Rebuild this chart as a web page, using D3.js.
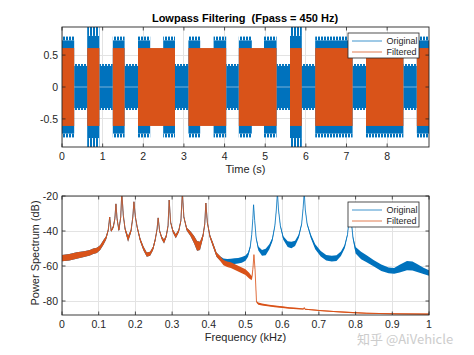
<!DOCTYPE html>
<html><head><meta charset="utf-8">
<script src="https://cdn.jsdelivr.net/npm/d3@7"></script>
<style>body{margin:0;background:#fff}svg{display:block;font-family:"Liberation Sans",Arial,Helvetica,sans-serif}</style>
</head><body><svg id="c" width="474" height="355"></svg>
<script>
// ---------- data: time signal (segment envelopes) ----------
const timeTicks = [0,1,2,3,4,5,6,7,8];
const ampTicks = [-0.5,0,0.5];
const origStart = [0,0.30,0.62,0.92,1.25,1.54,1.87,2.17,2.49,2.78,3.11,3.40,3.73,4.04,4.35,4.67,4.97,5.28,5.61,5.90,6.23,7.15,7.48,8.40,8.73];
const origEnd   = [0.30,0.62,0.92,1.25,1.54,1.87,2.17,2.49,2.78,3.11,3.40,3.73,4.04,4.35,4.67,4.97,5.28,5.61,5.90,6.23,7.15,7.48,8.40,8.73,9.03];
const origAmp   = [0.79,0.36,1.00,0.36,0.79,0.36,0.79,0.60,0.79,0.36,0.79,0.60,0.79,0.36,0.79,0.60,0.79,0.36,1.00,0.36,0.79,0.36,0.79,0.36,0.79];
const origFuzz  = [0.06,0.03,0.20,0.03,0.06,0.03,0.06,0.00,0.06,0.03,0.06,0.00,0.06,0.03,0.06,0.00,0.06,0.03,0.20,0.03,0.06,0.03,0.06,0.03,0.06];
const filtStart = [0,0.62,1.25,1.87,3.11,4.35,5.61,6.23,7.48,8.73];
const filtEnd   = [0.30,0.92,1.54,2.78,4.04,5.28,5.90,7.15,8.40,9.03];
const filtAmp   = [0.61,0.61,0.61,0.61,0.61,0.61,0.61,0.61,0.61,0.61];

// ---------- data: power spectrum ----------
const freqTicks = [0,0.1,0.2,0.3,0.4,0.5,0.6,0.7,0.8,0.9,1];
const freqTickLabels = ["0","0.1","0.2","0.3","0.4","0.5","0.6","0.7","0.8","0.9","1"];
const dbTicks = [-80,-60,-40,-20];
const filtFreq  = [0,.02,.04,.06,.076,.085,.095,.104,.113,.120,.126,.130,.134,.140,.144,.147,.150,.155,.160,.163,.167,.172,.180,.188,.193,.196,.200,.205,.213,.222,.231,.240,.248,.254,.259,.262,.266,.272,.278,.284,.289,.292,.296,.302,.310,.318,.324,.328,.332,.340,.350,.360,.368,.376,.384,.389,.392,.396,.403,.410,.421,.430,.440,.450,.460,.470,.480,.490,.500,.510,.517,.520,.523,.526,.530,.535,.545,.560,.580,.600,.620,.640,.658,.660,.662,.680,.700,.740,.780,.830,.900,1.0];
const filtDb    = [-55.5,-55,-54,-53.2,-52.4,-51.6,-51,-49.5,-46.5,-44,-39.5,-32,-40,-37.5,-33,-24.5,-33,-39.5,-32,-18,-31,-39,-44.5,-40,-32,-23.3,-32,-38,-45,-50,-53.5,-53,-50,-45,-39,-32.5,-40,-44,-46,-43,-37,-22.3,-35,-40,-43,-40,-34,-18,-32,-39,-41.5,-45,-48.5,-48.5,-43,-36,-24,-35,-43,-47,-53.5,-55.5,-58,-59,-59.5,-60.5,-61.5,-62.5,-63.5,-65.5,-67,-62,-53.5,-62,-80.5,-81.5,-82,-82.5,-83,-83.5,-84,-84.3,-84.6,-83.8,-84.7,-85,-85.4,-86,-86.5,-87,-87.3,-87.5];
const filtNoise = [1.8,1.8,1.8,1.7,1.6,1.6,1.5,1.4,1.3,1.0,0.6,0.2,0.6,0.8,0.4,0.2,0.4,0.8,0.4,0.2,0.4,0.9,1.6,0.8,0.4,0.2,0.4,0.7,1.0,1.2,1.2,1.2,1.0,0.8,0.5,0.2,0.5,0.8,1.2,0.8,0.5,0.2,0.4,0.8,1.2,0.8,0.4,0.2,0.4,0.9,1.4,2.2,2.8,2.4,1.2,0.5,0.2,0.5,0.9,1.2,1.2,1.3,1.5,1.6,1.6,1.6,1.6,1.6,1.6,1.6,1.2,0.5,0.2,0.4,0.5,0.6,0.6,0.5,0.5,0.5,0.4,0.4,0.3,0.3,0.3,0.3,0.3,0.3,0.3,0.3,0.3,0.3];
// Original = filtered below the passband edge, plus this stopband part
const passEdge = 0.43;
const origStopFreq  = [.430,.440,.450,.460,.470,.480,.490,.500,.507,.513,.517,.520,.522,.525,.529,.535,.545,.555,.565,.573,.580,.584,.587,.590,.595,.603,.615,.625,.635,.645,.653,.657,.660,.663,.668,.678,.690,.705,.720,.735,.748,.760,.770,.778,.782,.785,.788,.793,.800,.815,.830,.850,.870,.890,.905,.920,.940,.955,.970,.985,1.0];
const origStopDb    = [-55.5,-57,-57.5,-57.5,-57.2,-57,-56.5,-55.5,-53.5,-49,-42,-33,-25,-34,-44,-50,-52.5,-52,-49,-45,-37,-28,-18,-28,-37,-44,-47.5,-48,-47,-43,-36,-27,-18,-28,-36,-43,-49,-53,-55.3,-55.8,-55.5,-53,-49,-42,-34,-27,-34,-44,-51,-54,-55.8,-58.5,-61,-62.5,-62.8,-61.5,-59.8,-60,-61.3,-62.8,-64];
const origStopNoise = [1.2,1.3,1.5,1.6,1.6,1.6,1.6,1.5,1.2,0.8,0.5,0.3,0.2,0.3,0.6,1.2,1.6,1.8,1.4,1.0,0.5,0.3,0.2,0.3,0.5,1.0,1.6,1.8,1.5,1.0,0.5,0.3,0.2,0.3,0.5,1.0,1.4,1.6,1.6,1.6,1.6,1.3,1.0,0.6,0.4,0.2,0.4,0.8,1.8,2.2,2.0,1.8,1.8,1.6,1.6,2.2,2.6,2.6,2.2,1.8,1.6];

const blue = "#0072BD", orange = "#D95319";
const axCol = "#262626", gridCol = "#e3e3e3";

const svg = d3.select("#c");
const defs = svg.append("defs");
const pat = defs.append("pattern").attr("id","fz").attr("patternUnits","userSpaceOnUse").attr("width",3).attr("height",6);
pat.append("rect").attr("x",0).attr("y",0).attr("width",2).attr("height",6).attr("fill",blue);

function frame(g, x, y, xt, yt) {
  const [x0,x1] = x.range(), [y1,y0] = y.range();
  g.append("g").selectAll("line").data(xt).join("line")
    .attr("x1",d=>x(d)).attr("x2",d=>x(d)).attr("y1",y0).attr("y2",y1)
    .attr("stroke",gridCol).attr("stroke-width",1).attr("shape-rendering","crispEdges");
  g.append("g").selectAll("line").data(yt).join("line")
    .attr("y1",d=>y(d)).attr("y2",d=>y(d)).attr("x1",x0).attr("x2",x1)
    .attr("stroke",gridCol).attr("stroke-width",1).attr("shape-rendering","crispEdges");
}
function axesBox(g, x, y, xt, yt, xfmt, yfmt, labY) {
  const [x0,x1] = x.range(), [y1,y0] = y.range();
  const tk = 3.5;
  const ticks = g.append("g").attr("stroke",axCol).attr("stroke-width",0.8);
  xt.forEach(d=>{
    ticks.append("line").attr("x1",x(d)).attr("x2",x(d)).attr("y1",y1).attr("y2",y1-tk);
    ticks.append("line").attr("x1",x(d)).attr("x2",x(d)).attr("y1",y0).attr("y2",y0+tk);
  });
  yt.forEach(d=>{
    ticks.append("line").attr("y1",y(d)).attr("y2",y(d)).attr("x1",x0).attr("x2",x0+tk);
    ticks.append("line").attr("y1",y(d)).attr("y2",y(d)).attr("x1",x1).attr("x2",x1-tk);
  });
  g.append("rect").attr("x",x0).attr("y",y0).attr("width",x1-x0).attr("height",y1-y0)
    .attr("fill","none").attr("stroke",axCol).attr("stroke-width",0.9);
  g.append("g").selectAll("text").data(xt).join("text")
    .attr("x",d=>x(d)).attr("y",labY).attr("text-anchor","middle")
    .attr("font-size",10.5).attr("fill",axCol).text((d,i)=>xfmt(d,i));
  g.append("g").selectAll("text").data(yt).join("text")
    .attr("x",x0-4).attr("y",d=>y(d)).attr("dy","0.35em").attr("text-anchor","end")
    .attr("font-size",10.5).attr("fill",axCol).text(d=>yfmt(d));
}
function legend(g, x, y) {
  g.append("rect").attr("x",x).attr("y",y).attr("width",71).attr("height",25)
    .attr("fill","#fff").attr("stroke",axCol).attr("stroke-width",0.8);
  [["Original",blue],["Filtered",orange]].forEach((d,i)=>{
    const yy = y+8+i*11;
    g.append("line").attr("x1",x+4).attr("x2",x+34).attr("y1",yy).attr("y2",yy)
      .attr("stroke",d[1]).attr("stroke-width",1).attr("opacity",0.75);
    g.append("text").attr("x",x+38.5).attr("y",yy).attr("dy","0.35em")
      .attr("font-size",9).attr("fill",axCol).text(d[0]);
  });
}

// ================= TOP: time signal =================
const xT = d3.scaleLinear().domain([0,9.03]).range([62,429]);
const yT = d3.scaleLinear().domain([-0.94,0.94]).range([147,27]);
const gT = svg.append("g");
frame(gT, xT, yT, timeTicks, ampTicks);
defs.append("clipPath").attr("id","clipT").append("rect")
  .attr("x",62).attr("y",27).attr("width",367).attr("height",120);
const dT = gT.append("g").attr("clip-path","url(#clipT)");
const segs = origStart.map((s,i)=>({s, e:origEnd[i], a:origAmp[i], f:origFuzz[i]}));
dT.append("g").selectAll("rect").data(segs).join("rect")
  .attr("x",d=>xT(d.s)).attr("width",d=>xT(d.e)-xT(d.s))
  .attr("y",d=>yT(d.a-d.f)).attr("height",d=>yT(-(d.a-d.f))-yT(d.a-d.f))
  .attr("fill",blue);
[1,-1].forEach(sg=>{
  dT.append("g").selectAll("rect").data(segs.filter(d=>d.f>0)).join("rect")
    .attr("x",d=>xT(d.s)).attr("width",d=>xT(d.e)-xT(d.s))
    .attr("y",d=>sg>0 ? yT(d.a) : yT(-(d.a-d.f)))
    .attr("height",d=>yT(d.a-d.f)-yT(d.a))
    .attr("fill","url(#fz)");
});
dT.append("line").attr("x1",xT(0)).attr("x2",xT(9.03)).attr("y1",yT(0)).attr("y2",yT(0))
  .attr("stroke","#dfe6ee").attr("stroke-width",1).attr("opacity",0.55);
const fsegs = filtStart.map((s,i)=>({s, e:filtEnd[i], a:filtAmp[i]}));
dT.append("g").selectAll("rect").data(fsegs).join("rect")
  .attr("x",d=>xT(d.s)).attr("width",d=>xT(d.e)-xT(d.s))
  .attr("y",d=>yT(d.a)).attr("height",d=>yT(-d.a)-yT(d.a))
  .attr("fill",orange);
axesBox(gT, xT, yT, timeTicks, ampTicks, d=>String(d), d=>String(d), 160);
gT.append("text").attr("x",245).attr("y",22).attr("text-anchor","middle")
  .attr("font-size",11).attr("font-weight","bold").attr("fill","#000")
  .attr("xml:space","preserve").style("white-space","pre")
  .text("Lowpass Filtering  (Fpass = 450 Hz)");
gT.append("text").attr("x",245.5).attr("y",173).attr("text-anchor","middle")
  .attr("font-size",11).attr("fill",axCol).text("Time (s)");
legend(gT, 348, 33);

// ================= BOTTOM: spectrum =================
const xF = d3.scaleLinear().domain([0,1]).range([62,429]);
const yF = d3.scaleLinear().domain([-88,-20]).range([315,196]);
const gB = svg.append("g");
frame(gB, xF, yF, freqTicks, dbTicks);
defs.append("clipPath").attr("id","clipB").append("rect")
  .attr("x",62).attr("y",196).attr("width",367).attr("height",119);
const dB = gB.append("g").attr("clip-path","url(#clipB)");

const filtPts = filtFreq.map((f,i)=>({f, v:filtDb[i], n:filtNoise[i]}));
const origPts = filtPts.filter(d=>d.f<passEdge)
  .concat(origStopFreq.map((f,i)=>({f, v:origStopDb[i], n:origStopNoise[i]})));

const band = d3.area().x(d=>xF(d.f)).y0(d=>yF(d.v-d.n)).y1(d=>yF(d.v+d.n));
const ln = d3.line().x(d=>xF(d.f)).y(d=>yF(d.v));

dB.append("path").datum(origPts).attr("d",band).attr("fill",blue);
dB.append("path").datum(origPts).attr("d",ln).attr("fill","none").attr("stroke",blue).attr("stroke-width",1).attr("opacity",0.8);
dB.append("path").datum(filtPts).attr("d",band).attr("fill",orange);
dB.append("path").datum(filtPts).attr("d",ln).attr("fill","none").attr("stroke",orange).attr("stroke-width",1).attr("opacity",0.8);

axesBox(gB, xF, yF, freqTicks, dbTicks, (d,i)=>freqTickLabels[i], d=>String(d), 328);
gB.append("text").attr("x",245.5).attr("y",341).attr("text-anchor","middle")
  .attr("font-size",11).attr("fill",axCol).text("Frequency (kHz)");
gB.append("text").attr("transform","translate(39,253) rotate(-90)").attr("text-anchor","middle")
  .attr("font-size",11).attr("fill",axCol).text("Power Spectrum (dB)");
legend(gB, 348, 202);

// watermark
svg.append("text").attr("x",357).attr("y",344).attr("font-size",13)
  .attr("fill","#c4c4c4").attr("opacity",0.85)
  .attr("font-family","'Noto Sans CJK SC','Liberation Sans',sans-serif")
  .text("知乎 @AiVehicle");
</script></body></html>
